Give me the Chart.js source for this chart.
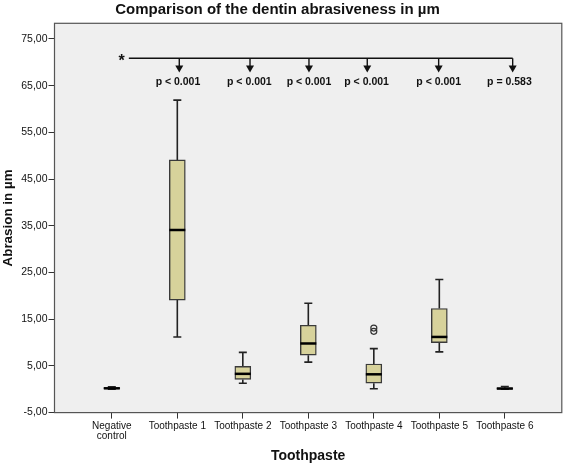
<!DOCTYPE html>
<html lang="en">
<head>
    <meta charset="UTF-8">
    <title>Comparison of the dentin abrasiveness in µm</title>
    <script src="https://cdn.jsdelivr.net/npm/chart.js"></script>
    <style>
        html, body { margin: 0; padding: 0; background: #fff; }
        #wrap { width: 567px; height: 466px; position: relative; }
    </style>
</head>
<body>
<div id="wrap"><canvas id="boxChart"></canvas></div>

<script>
    // Данные
    const categories = [["Negative", "control"], "Toothpaste 1", "Toothpaste 2", "Toothpaste 3", "Toothpaste 4", "Toothpaste 5", "Toothpaste 6"];
    const whiskerLow  = [0.0, 11.2, 1.3, 5.8, 0.1, 8.0, 0.0];
    const quartile1   = [0.1, 19.1, 2.1, 7.3, 1.3, 10.0, 0.0];
    const medians     = [0.2, 34.1, 3.3, 9.8, 3.2, 11.2, 0.15];
    const quartile3   = [0.35, 49.1, 4.9, 13.7, 5.4, 17.3, 0.3];
    const whiskerHigh = [0.5, 61.9, 7.9, 18.4, 8.7, 23.5, 0.6];
    const outliers    = [{ x: 4, y: 12.4 }, { x: 4, y: 13.1 }];
    const yTicks      = [-5, 5, 15, 25, 35, 45, 55, 65, 75];
    const pLabels     = ["p < 0.001", "p < 0.001", "p < 0.001", "p < 0.001", "p < 0.001", "p = 0.583"];

    // Положение стрелок сравнения (в единицах осей)
    const arrowX  = [1.03, 2.11, 3.01, 3.90, 4.99, 6.12];
    const pLabelX = [1.01, 2.10, 3.01, 3.89, 4.99, 6.07];
    const bracketY = 70.87, arrowTipY = 67.8, pLabelY = 65.86, starX = 0.15, bracketStartX = 0.26;

    const fmt = v => v.toFixed(2).replace('.', ',');
    const FONT = '"Liberation Sans", Arial, sans-serif';

    // Фон области графика, рамка и заголовок
    const plotFrame = {
        id: 'plotFrame',
        beforeDraw(chart) {
            const { ctx, chartArea: a } = chart;
            ctx.save();
            ctx.fillStyle = '#efefef';
            ctx.fillRect(a.left, a.top, a.right - a.left, a.bottom - a.top);
            ctx.restore();
        },
        afterDraw(chart) {
            const { ctx, chartArea: a } = chart;
            ctx.save();
            ctx.strokeStyle = '#555';
            ctx.lineWidth = 1.2;
            ctx.strokeRect(a.left, a.top, a.right - a.left, a.bottom - a.top);
            ctx.fillStyle = '#111';
            ctx.font = 'bold 15px ' + FONT;
            ctx.textAlign = 'center';
            ctx.textBaseline = 'middle';
            ctx.fillText('Comparison of the dentin abrasiveness in µm', 277.5, 10);
            ctx.restore();
        }
    };

    // Усы, медианы и стрелки
    const boxParts = {
        id: 'boxParts',
        beforeDatasetsDraw(chart) {
            const { ctx, scales: { x, y } } = chart;
            ctx.save();
            ctx.strokeStyle = '#222';
            ctx.lineWidth = 1.6;
            categories.forEach((c, i) => {
                const cx = x.getPixelForValue(i);
                const hi = y.getPixelForValue(whiskerHigh[i]);
                const lo = y.getPixelForValue(whiskerLow[i]);
                ctx.beginPath();
                ctx.moveTo(cx, y.getPixelForValue(quartile3[i]));
                ctx.lineTo(cx, hi);
                ctx.moveTo(cx, y.getPixelForValue(quartile1[i]));
                ctx.lineTo(cx, lo);
                ctx.moveTo(cx - 4, hi);
                ctx.lineTo(cx + 4, hi);
                ctx.moveTo(cx - 4, lo);
                ctx.lineTo(cx + 4, lo);
                ctx.stroke();
            });
            ctx.restore();
        },
        afterDatasetsDraw(chart) {
            const { ctx, scales: { x, y } } = chart;
            ctx.save();
            ctx.strokeStyle = '#000';
            ctx.lineWidth = 2.5;
            medians.forEach((m, i) => {
                const cx = x.getPixelForValue(i);
                const my = y.getPixelForValue(m);
                ctx.beginPath();
                ctx.moveTo(cx - 8, my);
                ctx.lineTo(cx + 8, my);
                ctx.stroke();
            });

            // скобка сравнения
            const by = y.getPixelForValue(bracketY);
            const ty = y.getPixelForValue(arrowTipY);
            ctx.lineWidth = 1.4;
            ctx.strokeStyle = '#111';
            ctx.fillStyle = '#111';
            ctx.beginPath();
            ctx.moveTo(x.getPixelForValue(bracketStartX), by);
            ctx.lineTo(x.getPixelForValue(arrowX[arrowX.length - 1]), by);
            ctx.stroke();
            arrowX.forEach(ax => {
                const px = x.getPixelForValue(ax);
                ctx.beginPath();
                ctx.moveTo(px, by);
                ctx.lineTo(px, ty - 5);
                ctx.stroke();
                ctx.beginPath();
                ctx.moveTo(px - 4, ty - 7);
                ctx.lineTo(px + 4, ty - 7);
                ctx.lineTo(px, ty);
                ctx.closePath();
                ctx.fill();
            });
            ctx.font = 'bold 10.5px ' + FONT;
            ctx.textAlign = 'center';
            ctx.textBaseline = 'middle';
            pLabels.forEach((t, i) => {
                ctx.fillText(t, x.getPixelForValue(pLabelX[i]), y.getPixelForValue(pLabelY));
            });
            ctx.font = 'bold 16px ' + FONT;
            ctx.fillText('*', x.getPixelForValue(starX), by + 3);
            ctx.restore();
        }
    };

    new Chart(document.getElementById('boxChart').getContext('2d'), {
        type: 'bar',
        data: {
            datasets: [
                {
                    label: 'IQR',
                    data: categories.map((c, i) => ({ x: i, y: [quartile1[i], quartile3[i]] })),
                    backgroundColor: '#d7d29b',
                    borderColor: '#3a3a3a',
                    borderWidth: 1.4,
                    borderSkipped: false,
                    barThickness: 16
                },
                {
                    type: 'scatter',
                    label: 'Outliers',
                    data: outliers,
                    pointStyle: 'circle',
                    pointRadius: 3,
                    backgroundColor: 'rgba(0,0,0,0)',
                    borderColor: '#333',
                    borderWidth: 1.2
                }
            ]
        },
        options: {
            responsive: true,
            maintainAspectRatio: false,
            animation: false,
            layout: { padding: { top: 23.3, right: 3.7, left: 0, bottom: 0 } },
            plugins: {
                legend: { display: false },
                tooltip: { enabled: false }
            },
            scales: {
                x: {
                    type: 'linear',
                    min: -0.875,
                    max: 6.87,
                    offset: false,
                    afterFit(scale) { scale.height = 53.4; },
                    afterBuildTicks(scale) { scale.ticks = categories.map((c, i) => ({ value: i })); },
                    ticks: {
                        autoSkip: false,
                        maxRotation: 0,
                        padding: 3,
                        color: '#111',
                        font: { family: FONT, size: 10, lineHeight: 1 },
                        callback: v => categories[v]
                    },
                    grid: { offset: false, drawOnChartArea: false, drawTicks: true, tickLength: 6, color: '#333' },
                    border: { display: true, color: '#555' },
                    title: {
                        display: true,
                        text: 'Toothpaste',
                        color: '#111',
                        padding: { top: 0, bottom: 1 },
                        font: { family: FONT, size: 14, weight: 'bold' }
                    }
                },
                y: {
                    min: -5,
                    max: 78.36,
                    afterFit(scale) { scale.width = 54.5; },
                    afterBuildTicks(scale) { scale.ticks = yTicks.map(v => ({ value: v })); },
                    ticks: {
                        padding: 1,
                        color: '#111',
                        font: { family: FONT, size: 10.5 },
                        callback: v => fmt(v)
                    },
                    grid: { drawOnChartArea: false, drawTicks: true, tickLength: 6, color: '#333' },
                    border: { display: true, color: '#555' },
                    title: {
                        display: true,
                        text: 'Abrasion in µm',
                        color: '#111',
                        padding: { top: 0, bottom: 0 },
                        font: { family: FONT, size: 13.4, weight: 'bold' }
                    }
                }
            }
        },
        plugins: [plotFrame, boxParts]
    });
</script>
</body>
</html>
